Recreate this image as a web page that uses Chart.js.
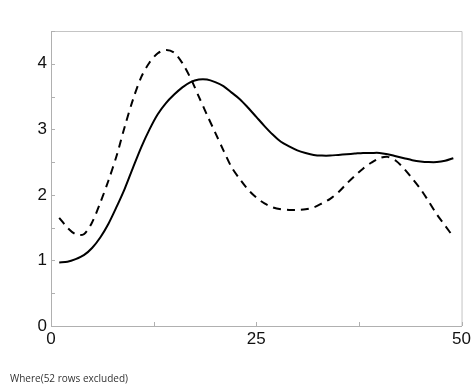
<!DOCTYPE html>
<html>
<head>
    <title>Where(52 rows excluded)</title>
    <script src="https://cdn.jsdelivr.net/npm/chart.js"></script>
    <style>
        body { margin: 0; background: #fff; }
        #wrap { position: relative; width: 474px; height: 387px; }
        #note { position: absolute; left: 10px; top: 371px; font: 10px "Open Sans", sans-serif; color: #333; }
    </style>
</head>
<body>
    <div id="wrap">
        <canvas id="lineChart" width="474" height="387"></canvas>
        <div id="note">Where(52 rows excluded)</div>
    </div>
    <script>
        // values
        const xs = [1, 2, 3, 4, 5, 6, 7, 8, 9, 10, 11, 12, 13, 14, 15, 16, 17, 18, 19, 20, 21, 22, 23, 24, 25,
                    26, 27, 28, 29, 30, 31, 32, 33, 34, 35, 36, 37, 38, 39, 40, 41, 42, 43, 44, 45, 46, 47, 48, 49];
        const solidSeries = [0.97, 0.98, 1.02, 1.08, 1.19, 1.35, 1.56, 1.82, 2.10, 2.42, 2.73, 3.00, 3.23, 3.40, 3.53, 3.64, 3.72, 3.76, 3.76, 3.72, 3.66, 3.56, 3.46, 3.33, 3.19,
                             3.05, 2.92, 2.81, 2.74, 2.68, 2.64, 2.61, 2.60, 2.60, 2.61, 2.62, 2.63, 2.64, 2.64, 2.64, 2.62, 2.59, 2.56, 2.53, 2.51, 2.50, 2.50, 2.52, 2.56];
        const dashedSeries = [1.65, 1.50, 1.40, 1.40, 1.58, 1.88, 2.22, 2.60, 3.05, 3.46, 3.80, 4.02, 4.16, 4.21, 4.17, 4.01, 3.78, 3.50, 3.22, 2.95, 2.68, 2.42, 2.24, 2.08, 1.96,
                              1.87, 1.81, 1.78, 1.77, 1.77, 1.78, 1.81, 1.87, 1.94, 2.04, 2.17, 2.29, 2.40, 2.49, 2.56, 2.58, 2.52, 2.40, 2.25, 2.09, 1.90, 1.70, 1.53, 1.36];
        const xTickLabels = [0, 25, 50];
        const yTickLabels = [0, 1, 2, 3, 4];

        const toPoints = vals => vals.map((v, i) => ({ x: xs[i], y: v }));

        // box on top/right plus small inward ticks
        const frame = {
            id: 'frame',
            afterDraw(chart) {
                const ctx = chart.ctx;
                const a = chart.chartArea;
                ctx.save();
                ctx.strokeStyle = '#c4c4c4';
                ctx.lineWidth = 1;
                ctx.beginPath();
                ctx.moveTo(a.left, a.top + 0.5);
                ctx.lineTo(a.right + 0.5, a.top + 0.5);
                ctx.lineTo(a.right + 0.5, a.bottom);
                ctx.stroke();
                ctx.strokeStyle = '#b0b0b0';
                ctx.beginPath();
                chart.scales.x.ticks.forEach(t => {
                    const px = Math.round(chart.scales.x.getPixelForValue(t.value)) + 0.5;
                    ctx.moveTo(px, a.bottom);
                    ctx.lineTo(px, a.bottom - 4);
                });
                chart.scales.y.ticks.forEach(t => {
                    const py = Math.round(chart.scales.y.getPixelForValue(t.value)) + 0.5;
                    ctx.moveTo(a.left, py);
                    ctx.lineTo(a.left + 4, py);
                });
                ctx.stroke();
                ctx.restore();
            }
        };

        const ctx = document.getElementById('lineChart').getContext('2d');
        new Chart(ctx, {
            type: 'line',
            data: {
                datasets: [{
                    label: 'solid',
                    data: toPoints(solidSeries),
                    borderColor: '#000',
                    borderWidth: 2,
                    tension: 0.3,
                    pointRadius: 0,
                    fill: false
                }, {
                    label: 'dashed',
                    data: toPoints(dashedSeries),
                    borderColor: '#000',
                    borderWidth: 2,
                    borderDash: [8, 6],
                    tension: 0.3,
                    pointRadius: 0,
                    fill: false
                }]
            },
            options: {
                responsive: false,
                animation: false,
                layout: { padding: { left: 0, top: 31, right: 12, bottom: 0 } },
                plugins: { legend: { display: false }, tooltip: { enabled: false } },
                scales: {
                    x: {
                        type: 'linear',
                        min: 0,
                        max: 50,
                        afterFit: s => { s.height = 61; },
                        afterBuildTicks: s => {
                            s.ticks = [0, 12.5, 25, 37.5, 50].map(v => ({ value: v }));
                        },
                        ticks: {
                            padding: 3,
                            maxRotation: 0,
                            autoSkip: false,
                            color: '#111',
                            font: { family: 'Liberation Sans', size: 17 },
                            callback: v => xTickLabels.includes(v) ? String(v) : ''
                        },
                        grid: { drawOnChartArea: false, drawTicks: false },
                        border: { color: '#b0b0b0' }
                    },
                    y: {
                        min: 0,
                        max: 4.5,
                        afterFit: s => { s.width = 51; },
                        ticks: {
                            stepSize: 0.5,
                            padding: 4,
                            color: '#111',
                            font: { family: 'Liberation Sans', size: 17 },
                            callback: v => yTickLabels.includes(v) ? String(v) : ''
                        },
                        grid: { drawOnChartArea: false, drawTicks: false },
                        border: { color: '#b0b0b0' }
                    }
                }
            },
            plugins: [frame]
        });
    </script>
</body>
</html>
